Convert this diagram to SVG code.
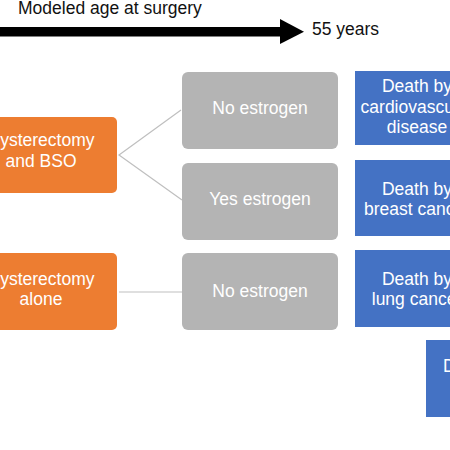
<svg xmlns="http://www.w3.org/2000/svg" width="450" height="450" viewBox="0 0 450 450">
<style>
text{font-family:"Liberation Sans",Arial,sans-serif;font-size:17.5px;text-anchor:middle}
.lbl{fill:#111;text-anchor:start}
.w{fill:#fff}
.orange{fill:#ED7D31}
.gray{fill:#B4B4B4}
.blue{fill:#4472C4}
.conn{stroke:#BFBFBF;stroke-width:1.2;fill:none}
</style>
<rect width="450" height="450" fill="#fff"/>
<g id="timeline">
<rect x="-2" y="27" width="284" height="9.5" fill="#000"/>
<polygon points="280,19 304,31.7 280,44" fill="#000"/>
<text class="lbl" x="18" y="14">Modeled age at surgery</text>
<text class="lbl" x="312" y="34.5">55 years</text>
</g>
<g id="connectors">
<polyline class="conn" points="181,110 119,155 182,200"/>
<line class="conn" x1="119" y1="292" x2="182" y2="292"/>
</g>
<g id="hyst-bso">
<rect class="orange" x="-36" y="117" width="153" height="76" rx="5"/>
<text class="w" x="41" y="146">Hysterectomy</text>
<text class="w" x="41" y="167">and BSO</text>
</g>
<g id="hyst-alone">
<rect class="orange" x="-36" y="253" width="153" height="77" rx="5"/>
<text class="w" x="41" y="284.5">Hysterectomy</text>
<text class="w" x="41" y="305">alone</text>
</g>
<g id="no-estrogen-1">
<rect class="gray" x="182" y="72" width="156" height="77" rx="6"/>
<text class="w" x="260" y="114">No estrogen</text>
</g>
<g id="yes-estrogen">
<rect class="gray" x="182" y="163" width="156" height="77" rx="6"/>
<text class="w" x="260" y="205">Yes estrogen</text>
</g>
<g id="no-estrogen-2">
<rect class="gray" x="182" y="253" width="156" height="77" rx="6"/>
<text class="w" x="260" y="297">No estrogen</text>
</g>
<g id="death-cvd">
<rect class="blue" x="355" y="71" width="124" height="74"/>
<text class="w" x="417" y="92">Death by</text>
<text class="w" x="417" y="113">cardiovascular</text>
<text class="w" x="417" y="133">disease</text>
</g>
<g id="death-breast">
<rect class="blue" x="355" y="160" width="124" height="76"/>
<text class="w" x="417" y="194.5">Death by</text>
<text class="w" x="417" y="214.5">breast cancer</text>
</g>
<g id="death-lung">
<rect class="blue" x="355" y="250" width="124" height="77"/>
<text class="w" x="417" y="285">Death by</text>
<text class="w" x="417" y="305">lung cancer</text>
</g>
<g id="death-other">
<rect class="blue" x="426" y="340" width="124" height="77"/>
<text class="w" x="443" y="372" style="text-anchor:start">D</text>
</g>
</svg>
